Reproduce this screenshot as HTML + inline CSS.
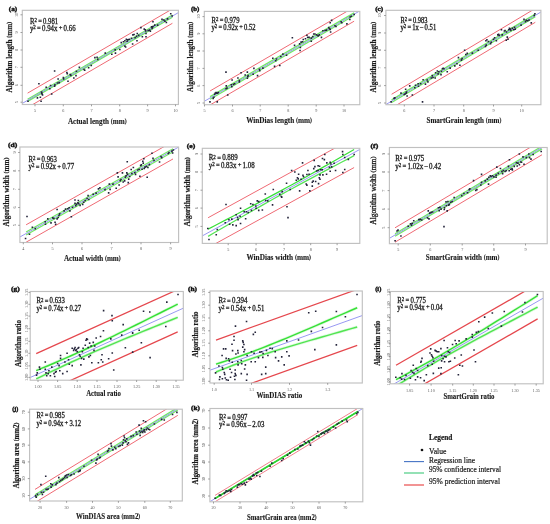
<!DOCTYPE html>
<html><head><meta charset="utf-8"><title>Regression plots</title>
<style>
html,body{margin:0;padding:0;background:#fff;}
body{width:550px;height:524px;overflow:hidden;}
svg{display:block;}
text{font-family:"Liberation Serif", "DejaVu Serif", serif;}
.tl{font-size:4.2px;fill:#5a5a5a;}
.lab{font-size:6.9px;font-weight:bold;fill:#111;stroke:#111;stroke-width:0.45px;}
.eq{font-size:7.2px;fill:#1c1c1c;stroke:#1c1c1c;stroke-width:0.28px;}
.sup{font-size:5.2px;}
.op{font-size:6.9px;}
.ax{font-size:7.4px;font-weight:bold;fill:#1a1a1a;stroke:#1a1a1a;stroke-width:0.12px;}
.yl{font-size:7.2px;stroke-width:0.2px;}
.nb{font-weight:normal;stroke-width:0.3px;}
.pp{font-size:5.9px;}
.lg{font-size:7.6px;fill:#1a1a1a;stroke:#1a1a1a;stroke-width:0.2px;}
</style></head>
<body>
<svg width="550" height="524" viewBox="0 0 550 524">
<rect width="550" height="524" fill="#fff"/>
<clipPath id="ca"><rect x="22.3" y="10.3" width="156.1" height="94.2"/></clipPath>
<g clip-path="url(#ca)" fill="none">
<line x1="27.6" y1="93.12" x2="172.4" y2="8.89" stroke="#ef6a74" stroke-width="1.0"/>
<line x1="27.6" y1="107.52" x2="172.4" y2="23.29" stroke="#ef6a74" stroke-width="1.0"/>
<line x1="27.6" y1="99.22" x2="172.4" y2="14.99" stroke="#72e964" stroke-width="1.3"/>
<line x1="27.6" y1="101.42" x2="172.4" y2="17.19" stroke="#72e964" stroke-width="1.3"/>
<line x1="22.3" y1="103.4" x2="178.4" y2="12.6" stroke="#8c8cf0" stroke-width="0.9"/>
<path d="M27.2 100.45h1.6v1.6h-1.6zM36.65 97.11h1.6v1.6h-1.6zM39.56 96.38h1.6v1.6h-1.6zM40.29 100.45h1.6v1.6h-1.6zM40.73 91.29h1.6v1.6h-1.6zM41.02 92.31h1.6v1.6h-1.6zM41.31 93.47h1.6v1.6h-1.6zM41.75 94.2h1.6v1.6h-1.6zM38.11 83h1.6v1.6h-1.6zM45.38 86.49h1.6v1.6h-1.6zM49.02 87.95h1.6v1.6h-1.6zM49.75 84.75h1.6v1.6h-1.6zM50.91 93.18h1.6v1.6h-1.6zM53.82 70.2h1.6v1.6h-1.6zM54.11 84.02h1.6v1.6h-1.6zM53.82 85.47h1.6v1.6h-1.6zM56.73 82.13h1.6v1.6h-1.6zM57.31 78.2h1.6v1.6h-1.6zM58.47 81.84h1.6v1.6h-1.6zM62.55 76.75h1.6v1.6h-1.6zM62.84 78.2h1.6v1.6h-1.6zM66.04 71.65h1.6v1.6h-1.6zM66.47 72.82h1.6v1.6h-1.6zM67.2 80.38h1.6v1.6h-1.6zM69.38 73.84h1.6v1.6h-1.6zM70.11 74.56h1.6v1.6h-1.6zM73.02 77.18h1.6v1.6h-1.6zM75.64 70.49h1.6v1.6h-1.6zM75.2 74.85h1.6v1.6h-1.6zM78.55 66.56h1.6v1.6h-1.6zM83.2 68.75h1.6v1.6h-1.6zM83.93 69.47h1.6v1.6h-1.6zM87.85 67h1.6v1.6h-1.6zM90.47 64.67h1.6v1.6h-1.6zM94.11 56.82h1.6v1.6h-1.6zM96.29 56.38h1.6v1.6h-1.6zM97.02 58.56h1.6v1.6h-1.6zM104.47 52.29h1.6v1.6h-1.6zM111.02 53.45h1.6v1.6h-1.6zM114.65 52.29h1.6v1.6h-1.6zM114.36 49.09h1.6v1.6h-1.6zM119.02 48.65h1.6v1.6h-1.6zM120.47 41.82h1.6v1.6h-1.6zM122.65 40.95h1.6v1.6h-1.6zM124.11 39.93h1.6v1.6h-1.6zM125.56 38.47h1.6v1.6h-1.6zM126.29 40.36h1.6v1.6h-1.6zM127.02 38.91h1.6v1.6h-1.6zM124.11 45.31h1.6v1.6h-1.6zM124.84 46.18h1.6v1.6h-1.6zM128.47 38.47h1.6v1.6h-1.6zM130.65 37.45h1.6v1.6h-1.6zM131.82 43.27h1.6v1.6h-1.6zM132.11 34.11h1.6v1.6h-1.6zM133.27 33.67h1.6v1.6h-1.6zM134.29 37.02h1.6v1.6h-1.6zM135.75 35.56h1.6v1.6h-1.6zM136.47 32.65h1.6v1.6h-1.6zM136.18 39.93h1.6v1.6h-1.6zM137.93 34.55h1.6v1.6h-1.6zM140.11 26.84h1.6v1.6h-1.6zM141.56 36h1.6v1.6h-1.6zM143.45 28.29h1.6v1.6h-1.6zM144.47 29.02h1.6v1.6h-1.6zM144.91 30.18h1.6v1.6h-1.6zM145.2 32.65h1.6v1.6h-1.6zM145.2 36h1.6v1.6h-1.6zM147.38 29.75h1.6v1.6h-1.6zM148.84 29.31h1.6v1.6h-1.6zM149.56 30.47h1.6v1.6h-1.6zM150.73 26.11h1.6v1.6h-1.6zM151.31 27.56h1.6v1.6h-1.6zM152.18 25.82h1.6v1.6h-1.6zM152.18 21.02h1.6v1.6h-1.6zM153.93 24.36h1.6v1.6h-1.6zM156.84 24.36h1.6v1.6h-1.6zM161.2 18.55h1.6v1.6h-1.6zM162.95 19.13h1.6v1.6h-1.6zM164.11 20.29h1.6v1.6h-1.6zM165.56 21.75h1.6v1.6h-1.6zM166.73 18.11h1.6v1.6h-1.6zM169.93 13.02h1.6v1.6h-1.6zM171.38 15.2h1.6v1.6h-1.6z" fill="#24243a"/>
</g>
<rect x="22.3" y="10.3" width="156.1" height="94.2" fill="none" stroke="#c0c0c0" stroke-width="1.15"/>
<path d="M35 104.5v1.8M63.3 104.5v1.8M91.5 104.5v1.8M119.7 104.5v1.8M147.6 104.5v1.8M175.5 104.5v1.8M22.3 14.8h-1.8M22.3 32.5h-1.8M22.3 50h-1.8M22.3 67.3h-1.8M22.3 85.3h-1.8M22.3 102.2h-1.8" stroke="#888" stroke-width="0.8" fill="none"/>
<text x="35" y="111.7" class="tl" text-anchor="middle">5</text>
<text x="63.3" y="111.7" class="tl" text-anchor="middle">6</text>
<text x="91.5" y="111.7" class="tl" text-anchor="middle">7</text>
<text x="119.7" y="111.7" class="tl" text-anchor="middle">8</text>
<text x="147.6" y="111.7" class="tl" text-anchor="middle">9</text>
<text x="175.5" y="111.7" class="tl" text-anchor="middle">10</text>
<text class="tl" text-anchor="middle" transform="translate(18 14.8) rotate(-90)">10</text>
<text class="tl" text-anchor="middle" transform="translate(18 32.5) rotate(-90)">9</text>
<text class="tl" text-anchor="middle" transform="translate(18 50) rotate(-90)">8</text>
<text class="tl" text-anchor="middle" transform="translate(18 67.3) rotate(-90)">7</text>
<text class="tl" text-anchor="middle" transform="translate(18 85.3) rotate(-90)">6</text>
<text class="tl" text-anchor="middle" transform="translate(18 102.2) rotate(-90)">5</text>
<text x="8.8" y="10.9" class="lab" textLength="8.4" lengthAdjust="spacingAndGlyphs">(a)</text>
<text class="eq" transform="translate(29.9 23.5) scale(0.9359 1)">R<tspan dy="-1.9" class="sup">2</tspan><tspan dy="1.3" dx="1.4" class="op">=</tspan><tspan dx="1.3" dy="0.6">0.981</tspan></text>
<text class="eq" transform="translate(29.9 30.6) scale(0.9499 1)">y<tspan dy="-1.9" class="sup">2</tspan><tspan dy="1.3" dx="1.4" class="op">=</tspan><tspan dx="1.3" dy="0.6">0.94x</tspan><tspan dx="1.3" dy="-0.6" class="op">+</tspan><tspan dx="1.3" dy="0.6">0.66</tspan></text>
<text x="67.9" y="124.1" class="ax" textLength="58.7" lengthAdjust="spacingAndGlyphs">Actual length <tspan class="pp" dy="-1.0">(</tspan><tspan dy="1.0">mm</tspan><tspan class="pp" dy="-1.0">)</tspan><tspan dy="1.0"></tspan></text>
<text class="ax yl" transform="translate(11.9 92.4) rotate(-90)" textLength="70.5" lengthAdjust="spacingAndGlyphs">Algorithm length <tspan class="pp" dy="-1.0">(</tspan><tspan dy="1.0">mm</tspan><tspan class="pp" dy="-1.0">)</tspan><tspan dy="1.0"></tspan></text>
<clipPath id="cb"><rect x="204.3" y="11.4" width="155.5" height="93.3"/></clipPath>
<g clip-path="url(#cb)" fill="none">
<line x1="210.1" y1="90.93" x2="354.1" y2="7.21" stroke="#ef6a74" stroke-width="1.0"/>
<line x1="210.1" y1="104.93" x2="354.1" y2="21.21" stroke="#ef6a74" stroke-width="1.0"/>
<line x1="210.1" y1="96.63" x2="354.1" y2="12.91" stroke="#72e964" stroke-width="1.3"/>
<line x1="210.1" y1="99.23" x2="354.1" y2="15.51" stroke="#72e964" stroke-width="1.3"/>
<line x1="204.3" y1="101.3" x2="359.8" y2="10.89" stroke="#8c8cf0" stroke-width="0.9"/>
<path d="M209.18 101.04h1.6v1.6h-1.6zM212.38 97.55h1.6v1.6h-1.6zM213.11 96.38h1.6v1.6h-1.6zM213.84 93.47h1.6v1.6h-1.6zM214.56 92.31h1.6v1.6h-1.6zM215.29 91.73h1.6v1.6h-1.6zM216.02 92.31h1.6v1.6h-1.6zM216.75 92.31h1.6v1.6h-1.6zM217.47 91.73h1.6v1.6h-1.6zM216.45 101.04h1.6v1.6h-1.6zM225.18 71.36h1.6v1.6h-1.6zM225.47 85.04h1.6v1.6h-1.6zM225.18 87.95h1.6v1.6h-1.6zM226.2 87.36h1.6v1.6h-1.6zM226.93 94.2h1.6v1.6h-1.6zM230.56 84.02h1.6v1.6h-1.6zM231 85.91h1.6v1.6h-1.6zM231.29 79.22h1.6v1.6h-1.6zM232.75 83.58h1.6v1.6h-1.6zM233.91 83h1.6v1.6h-1.6zM237.11 77.18h1.6v1.6h-1.6zM238.56 79.65h1.6v1.6h-1.6zM238.56 81.11h1.6v1.6h-1.6zM240.31 71.95h1.6v1.6h-1.6zM244.38 74.27h1.6v1.6h-1.6zM246.56 71.36h1.6v1.6h-1.6zM247.29 74.85h1.6v1.6h-1.6zM246.56 77.47h1.6v1.6h-1.6zM247 75.73h1.6v1.6h-1.6zM252.38 73.4h1.6v1.6h-1.6zM253.11 67.58h1.6v1.6h-1.6zM256.75 74.85h1.6v1.6h-1.6zM258.64 68.45h1.6v1.6h-1.6zM258.93 69.91h1.6v1.6h-1.6zM262.13 67.29h1.6v1.6h-1.6zM272.02 57.4h1.6v1.6h-1.6zM273.76 65.55h1.6v1.6h-1.6zM274.93 60.02h1.6v1.6h-1.6zM275.65 58.27h1.6v1.6h-1.6zM279 64.67h1.6v1.6h-1.6zM280.02 55.65h1.6v1.6h-1.6zM282.11 53.29h1.6v1.6h-1.6zM285.75 54.45h1.6v1.6h-1.6zM291.56 37h1.6v1.6h-1.6zM293.75 44.56h1.6v1.6h-1.6zM298.84 43.11h1.6v1.6h-1.6zM299.56 46.75h1.6v1.6h-1.6zM299.27 49.65h1.6v1.6h-1.6zM300.29 41.36h1.6v1.6h-1.6zM301.75 40.93h1.6v1.6h-1.6zM302.47 38.75h1.6v1.6h-1.6zM304.65 38.02h1.6v1.6h-1.6zM306.11 34.38h1.6v1.6h-1.6zM306.84 36.56h1.6v1.6h-1.6zM308.29 36.56h1.6v1.6h-1.6zM310.47 40.49h1.6v1.6h-1.6zM310.47 37.29h1.6v1.6h-1.6zM311.93 35.84h1.6v1.6h-1.6zM312.95 33.22h1.6v1.6h-1.6zM314.11 33.22h1.6v1.6h-1.6zM315.85 34.09h1.6v1.6h-1.6zM317.31 35.11h1.6v1.6h-1.6zM318.47 34.09h1.6v1.6h-1.6zM320.65 36.56h1.6v1.6h-1.6zM322.11 30.02h1.6v1.6h-1.6zM324.29 29.73h1.6v1.6h-1.6zM325.75 29.29h1.6v1.6h-1.6zM327.93 26.82h1.6v1.6h-1.6zM328.65 27.84h1.6v1.6h-1.6zM329.38 28.56h1.6v1.6h-1.6zM329.82 31.18h1.6v1.6h-1.6zM329.38 22.02h1.6v1.6h-1.6zM330.84 19.55h1.6v1.6h-1.6zM334.18 24.93h1.6v1.6h-1.6zM335.2 25.65h1.6v1.6h-1.6zM340.29 21h1.6v1.6h-1.6zM341.02 22.02h1.6v1.6h-1.6zM346.11 23.04h1.6v1.6h-1.6zM349.02 18.67h1.6v1.6h-1.6zM349.31 16.2h1.6v1.6h-1.6zM350.47 15.47h1.6v1.6h-1.6zM353.38 13.73h1.6v1.6h-1.6z" fill="#24243a"/>
</g>
<rect x="204.3" y="11.4" width="155.5" height="93.3" fill="none" stroke="#c0c0c0" stroke-width="1.15"/>
<path d="M204.5 104.7v1.8M232.5 104.7v1.8M260.2 104.7v1.8M288.2 104.7v1.8M316.2 104.7v1.8M344 104.7v1.8M204.3 16.6h-1.8M204.3 33.8h-1.8M204.3 51h-1.8M204.3 68.4h-1.8M204.3 85.6h-1.8M204.3 103h-1.8" stroke="#888" stroke-width="0.8" fill="none"/>
<text x="204.5" y="112.2" class="tl" text-anchor="middle">5</text>
<text x="232.5" y="112.2" class="tl" text-anchor="middle">6</text>
<text x="260.2" y="112.2" class="tl" text-anchor="middle">7</text>
<text x="288.2" y="112.2" class="tl" text-anchor="middle">8</text>
<text x="316.2" y="112.2" class="tl" text-anchor="middle">9</text>
<text x="344" y="112.2" class="tl" text-anchor="middle">10</text>
<text class="tl" text-anchor="middle" transform="translate(199.5 16.6) rotate(-90)">10</text>
<text class="tl" text-anchor="middle" transform="translate(199.5 33.8) rotate(-90)">9</text>
<text class="tl" text-anchor="middle" transform="translate(199.5 51) rotate(-90)">8</text>
<text class="tl" text-anchor="middle" transform="translate(199.5 68.4) rotate(-90)">7</text>
<text class="tl" text-anchor="middle" transform="translate(199.5 85.6) rotate(-90)">6</text>
<text class="tl" text-anchor="middle" transform="translate(199.5 103) rotate(-90)">5</text>
<text x="191" y="11.2" class="lab" textLength="8.4" lengthAdjust="spacingAndGlyphs">(b)</text>
<text class="eq" transform="translate(211.5 23) scale(0.9293 1)">R<tspan dy="-1.9" class="sup">2</tspan><tspan dy="1.3" dx="1.4" class="op">=</tspan><tspan dx="1.3" dy="0.6">0.979</tspan></text>
<text class="eq" transform="translate(211.5 30) scale(0.9169 1)">y<tspan dy="-1.9" class="sup">2</tspan><tspan dy="1.3" dx="1.4" class="op">=</tspan><tspan dx="1.3" dy="0.6">0.92x</tspan><tspan dx="1.3" dy="-0.6" class="op">+</tspan><tspan dx="1.3" dy="0.6">0.52</tspan></text>
<text x="246.2" y="123.3" class="ax" textLength="65.8" lengthAdjust="spacingAndGlyphs">WinDias length <tspan class="pp" dy="-1.0">(</tspan><tspan dy="1.0">mm</tspan><tspan class="pp" dy="-1.0">)</tspan><tspan dy="1.0"></tspan></text>
<text class="ax yl" transform="translate(193.2 92) rotate(-90)" textLength="70.1" lengthAdjust="spacingAndGlyphs">Algorithm length <tspan class="pp" dy="-1.0">(</tspan><tspan dy="1.0">mm</tspan><tspan class="pp" dy="-1.0">)</tspan><tspan dy="1.0"></tspan></text>
<clipPath id="cc"><rect x="385.9" y="10.3" width="155" height="94.4"/></clipPath>
<g clip-path="url(#cc)" fill="none">
<line x1="391.6" y1="94.26" x2="535.3" y2="8.47" stroke="#ef6a74" stroke-width="1.0"/>
<line x1="391.6" y1="108.06" x2="535.3" y2="22.27" stroke="#ef6a74" stroke-width="1.0"/>
<line x1="391.6" y1="99.86" x2="535.3" y2="14.07" stroke="#72e964" stroke-width="1.3"/>
<line x1="391.6" y1="102.46" x2="535.3" y2="16.67" stroke="#72e964" stroke-width="1.3"/>
<line x1="385.9" y1="104.56" x2="540.9" y2="12.02" stroke="#8c8cf0" stroke-width="0.9"/>
<path d="M390.31 101.04h1.6v1.6h-1.6zM393.22 97.55h1.6v1.6h-1.6zM394.09 97.11h1.6v1.6h-1.6zM400.2 92.31h1.6v1.6h-1.6zM403.4 93.76h1.6v1.6h-1.6zM404.27 93.18h1.6v1.6h-1.6zM405.29 92.31h1.6v1.6h-1.6zM405.73 91.29h1.6v1.6h-1.6zM404.85 88.38h1.6v1.6h-1.6zM406.31 95.22h1.6v1.6h-1.6zM408.93 85.04h1.6v1.6h-1.6zM411.55 94.2h1.6v1.6h-1.6zM414.02 86.93h1.6v1.6h-1.6zM414.75 84.45h1.6v1.6h-1.6zM417.36 83h1.6v1.6h-1.6zM417.65 85.47h1.6v1.6h-1.6zM419.84 83h1.6v1.6h-1.6zM422.31 78.93h1.6v1.6h-1.6zM424.64 83.29h1.6v1.6h-1.6zM426.38 79.22h1.6v1.6h-1.6zM427.11 81.11h1.6v1.6h-1.6zM430.45 77.18h1.6v1.6h-1.6zM431.47 74.85h1.6v1.6h-1.6zM432.2 76.75h1.6v1.6h-1.6zM434.38 77.18h1.6v1.6h-1.6zM434.82 71.95h1.6v1.6h-1.6zM436.56 70.2h1.6v1.6h-1.6zM437.29 73.11h1.6v1.6h-1.6zM438.02 70.93h1.6v1.6h-1.6zM440.2 73.84h1.6v1.6h-1.6zM440.64 70.49h1.6v1.6h-1.6zM441.65 68.02h1.6v1.6h-1.6zM442.38 67.58h1.6v1.6h-1.6zM443.11 68.02h1.6v1.6h-1.6zM446.45 70.93h1.6v1.6h-1.6zM449.36 67.29h1.6v1.6h-1.6zM454.02 65.11h1.6v1.6h-1.6zM456.2 62.93h1.6v1.6h-1.6zM457.65 56.82h1.6v1.6h-1.6zM459.11 64.38h1.6v1.6h-1.6zM460.56 59.29h1.6v1.6h-1.6zM461.29 57.84h1.6v1.6h-1.6zM421.73 101.04h1.6v1.6h-1.6zM463.85 49.38h1.6v1.6h-1.6zM465.02 53.75h1.6v1.6h-1.6zM466.47 52.58h1.6v1.6h-1.6zM471.56 52.29h1.6v1.6h-1.6zM477.38 49.38h1.6v1.6h-1.6zM484.65 45.75h1.6v1.6h-1.6zM485.38 44.29h1.6v1.6h-1.6zM485.09 39.93h1.6v1.6h-1.6zM486.11 38.91h1.6v1.6h-1.6zM487.56 40.65h1.6v1.6h-1.6zM489.75 42.84h1.6v1.6h-1.6zM490.47 41.38h1.6v1.6h-1.6zM492.65 38.47h1.6v1.6h-1.6zM493.82 37.02h1.6v1.6h-1.6zM495.56 39.93h1.6v1.6h-1.6zM497.02 34.11h1.6v1.6h-1.6zM497.75 33.38h1.6v1.6h-1.6zM498.47 34.55h1.6v1.6h-1.6zM500.65 29.02h1.6v1.6h-1.6zM501.38 34.11h1.6v1.6h-1.6zM503.56 30.18h1.6v1.6h-1.6zM504.29 29.75h1.6v1.6h-1.6zM505.75 31.2h1.6v1.6h-1.6zM506.47 36.29h1.6v1.6h-1.6zM507.2 38.47h1.6v1.6h-1.6zM505.45 39.49h1.6v1.6h-1.6zM507.93 29.02h1.6v1.6h-1.6zM508.65 27.56h1.6v1.6h-1.6zM509.38 28.29h1.6v1.6h-1.6zM510.11 29.75h1.6v1.6h-1.6zM511.56 27.56h1.6v1.6h-1.6zM513.02 29.02h1.6v1.6h-1.6zM513.75 26.4h1.6v1.6h-1.6zM514.47 28.29h1.6v1.6h-1.6zM520.29 24.36h1.6v1.6h-1.6zM523.2 18.55h1.6v1.6h-1.6zM524.65 21.02h1.6v1.6h-1.6zM525.38 19.56h1.6v1.6h-1.6zM526.84 20h1.6v1.6h-1.6zM528.29 19.13h1.6v1.6h-1.6zM530.47 22.04h1.6v1.6h-1.6zM533.38 14.76h1.6v1.6h-1.6zM534.11 13.02h1.6v1.6h-1.6z" fill="#24243a"/>
</g>
<rect x="385.9" y="10.3" width="155" height="94.4" fill="none" stroke="#c0c0c0" stroke-width="1.15"/>
<path d="M404.3 104.7v1.8M434 104.7v1.8M463.7 104.7v1.8M493.5 104.7v1.8M521.7 104.7v1.8M385.9 15.5h-1.8M385.9 33h-1.8M385.9 50.3h-1.8M385.9 67.8h-1.8M385.9 85.6h-1.8M385.9 103h-1.8" stroke="#888" stroke-width="0.8" fill="none"/>
<text x="404.3" y="112.2" class="tl" text-anchor="middle">6</text>
<text x="434" y="112.2" class="tl" text-anchor="middle">7</text>
<text x="463.7" y="112.2" class="tl" text-anchor="middle">8</text>
<text x="493.5" y="112.2" class="tl" text-anchor="middle">9</text>
<text x="521.7" y="112.2" class="tl" text-anchor="middle">10</text>
<text class="tl" text-anchor="middle" transform="translate(381 15.5) rotate(-90)">10</text>
<text class="tl" text-anchor="middle" transform="translate(381 33) rotate(-90)">9</text>
<text class="tl" text-anchor="middle" transform="translate(381 50.3) rotate(-90)">8</text>
<text class="tl" text-anchor="middle" transform="translate(381 67.8) rotate(-90)">7</text>
<text class="tl" text-anchor="middle" transform="translate(381 85.6) rotate(-90)">6</text>
<text class="tl" text-anchor="middle" transform="translate(381 103) rotate(-90)">5</text>
<text x="375.2" y="11.2" class="lab" textLength="8" lengthAdjust="spacingAndGlyphs">(c)</text>
<text class="eq" transform="translate(400.4 23) scale(0.8999 1)">R<tspan dy="-1.9" class="sup">2</tspan><tspan dy="1.3" dx="1.4" class="op">=</tspan><tspan dx="1.3" dy="0.6">0.983</tspan></text>
<text class="eq" transform="translate(400.4 30) scale(0.9281 1)">y<tspan dy="-1.9" class="sup">2</tspan><tspan dy="1.3" dx="1.4" class="op">=</tspan><tspan dx="1.3" dy="0.6">1x</tspan><tspan dx="1.3" dy="-0.6" class="op">–</tspan><tspan dx="1.3" dy="0.6">0.51</tspan></text>
<text x="426.5" y="123.3" class="ax" textLength="74.8" lengthAdjust="spacingAndGlyphs">SmartGrain length <tspan class="pp" dy="-1.0">(</tspan><tspan dy="1.0">mm</tspan><tspan class="pp" dy="-1.0">)</tspan><tspan dy="1.0"></tspan></text>
<text class="ax yl" transform="translate(375.5 92.4) rotate(-90)" textLength="70.5" lengthAdjust="spacingAndGlyphs">Algorithm length <tspan class="pp" dy="-1.0">(</tspan><tspan dy="1.0">mm</tspan><tspan class="pp" dy="-1.0">)</tspan><tspan dy="1.0"></tspan></text>
<clipPath id="cd"><rect x="19.9" y="147" width="158.7" height="95.5"/></clipPath>
<g clip-path="url(#cd)" fill="none">
<line x1="26.1" y1="224.8" x2="173" y2="141.55" stroke="#ef6a74" stroke-width="1.0"/>
<line x1="26.1" y1="242.2" x2="173" y2="158.95" stroke="#ef6a74" stroke-width="1.0"/>
<line x1="26.1" y1="232" x2="173" y2="148.75" stroke="#72e964" stroke-width="1.3"/>
<line x1="26.1" y1="235" x2="173" y2="151.75" stroke="#72e964" stroke-width="1.3"/>
<line x1="19.9" y1="237.01" x2="178.6" y2="147.08" stroke="#8c8cf0" stroke-width="0.9"/>
<path d="M24.75 237.75h1.6v1.6h-1.6zM26.2 215.64h1.6v1.6h-1.6zM28.67 233.38h1.6v1.6h-1.6zM31.58 226.4h1.6v1.6h-1.6zM34.49 227.85h1.6v1.6h-1.6zM44.38 221.02h1.6v1.6h-1.6zM44.67 223.49h1.6v1.6h-1.6zM47 218.11h1.6v1.6h-1.6zM50.2 222.04h1.6v1.6h-1.6zM51.95 217.09h1.6v1.6h-1.6zM53.11 217.67h1.6v1.6h-1.6zM54.27 221.45h1.6v1.6h-1.6zM54.85 223.49h1.6v1.6h-1.6zM56.31 208.65h1.6v1.6h-1.6zM56.31 218.11h1.6v1.6h-1.6zM57.47 216.65h1.6v1.6h-1.6zM58.2 214.47h1.6v1.6h-1.6zM58.93 213.02h1.6v1.6h-1.6zM63.29 210.11h1.6v1.6h-1.6zM64.75 208.36h1.6v1.6h-1.6zM66.93 207.93h1.6v1.6h-1.6zM68.38 206.91h1.6v1.6h-1.6zM69.11 210.11h1.6v1.6h-1.6zM70.56 215.93h1.6v1.6h-1.6zM71.73 206.47h1.6v1.6h-1.6zM74.2 199.2h1.6v1.6h-1.6zM74.2 202.55h1.6v1.6h-1.6zM74.93 205.02h1.6v1.6h-1.6zM75.65 203.56h1.6v1.6h-1.6zM77.11 202.11h1.6v1.6h-1.6zM77.55 199.64h1.6v1.6h-1.6zM77.84 202.84h1.6v1.6h-1.6zM79.29 204.58h1.6v1.6h-1.6zM81.91 203.56h1.6v1.6h-1.6zM82.93 201.38h1.6v1.6h-1.6zM84.38 199.64h1.6v1.6h-1.6zM86.27 197.75h1.6v1.6h-1.6zM87.29 194.84h1.6v1.6h-1.6zM88.02 198.76h1.6v1.6h-1.6zM92.38 193.38h1.6v1.6h-1.6zM95.29 192.36h1.6v1.6h-1.6zM97.65 188.11h1.6v1.6h-1.6zM99.11 187.09h1.6v1.6h-1.6zM104.2 188.84h1.6v1.6h-1.6zM107.84 192.04h1.6v1.6h-1.6zM108.56 183.31h1.6v1.6h-1.6zM109.29 188.55h1.6v1.6h-1.6zM112.2 183.31h1.6v1.6h-1.6zM115.4 187.38h1.6v1.6h-1.6zM116.56 172.11h1.6v1.6h-1.6zM117.29 176.04h1.6v1.6h-1.6zM118.31 184.18h1.6v1.6h-1.6zM119.47 179.82h1.6v1.6h-1.6zM120.2 178.65h1.6v1.6h-1.6zM121.65 172.11h1.6v1.6h-1.6zM122.38 181.27h1.6v1.6h-1.6zM123.84 180.11h1.6v1.6h-1.6zM124.56 176.47h1.6v1.6h-1.6zM125.29 175.02h1.6v1.6h-1.6zM126.02 172.11h1.6v1.6h-1.6zM126.45 160.91h1.6v1.6h-1.6zM126.75 173.56h1.6v1.6h-1.6zM127.47 181.85h1.6v1.6h-1.6zM127.91 178.36h1.6v1.6h-1.6zM128.93 175.75h1.6v1.6h-1.6zM130.38 168.76h1.6v1.6h-1.6zM131.11 172.84h1.6v1.6h-1.6zM132.56 166.73h1.6v1.6h-1.6zM134.02 171.67h1.6v1.6h-1.6zM134.75 173.56h1.6v1.6h-1.6zM136.93 169.2h1.6v1.6h-1.6zM138.38 168.47h1.6v1.6h-1.6zM139.11 175.45h1.6v1.6h-1.6zM139.84 164.84h1.6v1.6h-1.6zM140.56 164.11h1.6v1.6h-1.6zM141.29 168.47h1.6v1.6h-1.6zM142.02 160.47h1.6v1.6h-1.6zM142.45 162.36h1.6v1.6h-1.6zM143.04 158h1.6v1.6h-1.6zM143.47 167.75h1.6v1.6h-1.6zM144.2 166.29h1.6v1.6h-1.6zM145.65 165.56h1.6v1.6h-1.6zM146.38 176.47h1.6v1.6h-1.6zM147.11 166.73h1.6v1.6h-1.6zM148.56 163.82h1.6v1.6h-1.6zM151.18 152.47h1.6v1.6h-1.6zM152.2 157.56h1.6v1.6h-1.6zM153.22 159.75h1.6v1.6h-1.6zM158.75 161.2h1.6v1.6h-1.6zM160.2 155.67h1.6v1.6h-1.6zM160.93 156.84h1.6v1.6h-1.6zM167.47 152.76h1.6v1.6h-1.6zM168.2 151.75h1.6v1.6h-1.6zM171.11 150.29h1.6v1.6h-1.6zM171.84 152.18h1.6v1.6h-1.6zM172.56 149.27h1.6v1.6h-1.6z" fill="#24243a"/>
</g>
<rect x="19.9" y="147" width="158.7" height="95.5" fill="none" stroke="#c0c0c0" stroke-width="1.15"/>
<path d="M23.3 242.5v1.8M52.5 242.5v1.8M82 242.5v1.8M111.5 242.5v1.8M141 242.5v1.8M170.6 242.5v1.8M19.9 152.5h-1.8M19.9 170.8h-1.8M19.9 189.3h-1.8M19.9 207.5h-1.8M19.9 225.3h-1.8" stroke="#888" stroke-width="0.8" fill="none"/>
<text x="23.3" y="249.7" class="tl" text-anchor="middle">4</text>
<text x="52.5" y="249.7" class="tl" text-anchor="middle">5</text>
<text x="82" y="249.7" class="tl" text-anchor="middle">6</text>
<text x="111.5" y="249.7" class="tl" text-anchor="middle">7</text>
<text x="141" y="249.7" class="tl" text-anchor="middle">8</text>
<text x="170.6" y="249.7" class="tl" text-anchor="middle">9</text>
<text class="tl" text-anchor="middle" transform="translate(16 152.5) rotate(-90)">9</text>
<text class="tl" text-anchor="middle" transform="translate(16 170.8) rotate(-90)">8</text>
<text class="tl" text-anchor="middle" transform="translate(16 189.3) rotate(-90)">7</text>
<text class="tl" text-anchor="middle" transform="translate(16 207.5) rotate(-90)">6</text>
<text class="tl" text-anchor="middle" transform="translate(16 225.3) rotate(-90)">5</text>
<text x="8" y="146.6" class="lab" textLength="9.2" lengthAdjust="spacingAndGlyphs">(d)</text>
<text class="eq" transform="translate(28.5 161.5) scale(0.9359 1)">R<tspan dy="-1.9" class="sup">2</tspan><tspan dy="1.3" dx="1.4" class="op">=</tspan><tspan dx="1.3" dy="0.6">0.963</tspan></text>
<text class="eq" transform="translate(28.5 169.1) scale(0.9499 1)">y<tspan dy="-1.9" class="sup">2</tspan><tspan dy="1.3" dx="1.4" class="op">=</tspan><tspan dx="1.3" dy="0.6">0.92x</tspan><tspan dx="1.3" dy="-0.6" class="op">+</tspan><tspan dx="1.3" dy="0.6">0.77</tspan></text>
<text x="63.9" y="260.5" class="ax" textLength="56.8" lengthAdjust="spacingAndGlyphs">Actual width <tspan class="pp" dy="-1.0">(</tspan><tspan dy="1.0">mm</tspan><tspan class="pp" dy="-1.0">)</tspan><tspan dy="1.0"></tspan></text>
<text class="ax yl" transform="translate(9.2 226.4) rotate(-90)" textLength="68.8" lengthAdjust="spacingAndGlyphs">Algorithm width <tspan class="pp" dy="-1.0">(</tspan><tspan dy="1.0">mm</tspan><tspan class="pp" dy="-1.0">)</tspan><tspan dy="1.0"></tspan></text>
<clipPath id="ce"><rect x="202.3" y="148.3" width="157.5" height="95.1"/></clipPath>
<g clip-path="url(#ce)" fill="none">
<line x1="208.1" y1="217.72" x2="354.1" y2="137.56" stroke="#ef6a74" stroke-width="1.0"/>
<line x1="208.1" y1="247.72" x2="354.1" y2="167.56" stroke="#ef6a74" stroke-width="1.0"/>
<polyline points="208.1,229.08 214.18,225.93 220.27,222.77 226.35,219.61 232.43,216.44 238.52,213.26 244.6,210.07 250.68,206.86 256.77,203.65 262.85,200.42 268.93,197.17 275.02,193.9 281.1,190.61 287.18,187.3 293.27,183.96 299.35,180.59 305.43,177.2 311.52,173.79 317.6,170.35 323.68,166.9 329.77,163.44 335.85,159.96 341.93,156.47 348.02,152.97 354.1,149.46" stroke="#38e038" stroke-width="1.25" opacity="1"/>
<polyline points="208.1,236.35 214.18,232.82 220.27,229.3 226.35,225.79 232.43,222.28 238.52,218.78 244.6,215.29 250.68,211.81 256.77,208.35 262.85,204.9 268.93,201.46 275.02,198.05 281.1,194.67 287.18,191.3 293.27,187.96 299.35,184.65 305.43,181.36 311.52,178.09 317.6,174.85 323.68,171.62 329.77,168.4 335.85,165.2 341.93,162.01 348.02,158.84 354.1,155.66" stroke="#38e038" stroke-width="1.25" opacity="0.85"/>
<line x1="202.3" y1="235.9" x2="359.8" y2="149.43" stroke="#8c8cf0" stroke-width="0.9"/>
<path d="M207.02 227.75h1.6v1.6h-1.6zM208.18 238.65h1.6v1.6h-1.6zM215.45 234h1.6v1.6h-1.6zM216.47 228.76h1.6v1.6h-1.6zM225.2 203.75h1.6v1.6h-1.6zM224.47 221.93h1.6v1.6h-1.6zM228.11 219.02h1.6v1.6h-1.6zM231.02 218.29h1.6v1.6h-1.6zM228.84 223.38h1.6v1.6h-1.6zM232.04 224.11h1.6v1.6h-1.6zM235.38 224.84h1.6v1.6h-1.6zM235.38 213.93h1.6v1.6h-1.6zM236.84 216.84h1.6v1.6h-1.6zM237.27 219.02h1.6v1.6h-1.6zM239.31 215.38h1.6v1.6h-1.6zM239.75 207.38h1.6v1.6h-1.6zM239.75 222.65h1.6v1.6h-1.6zM243.38 211.02h1.6v1.6h-1.6zM245.56 211.02h1.6v1.6h-1.6zM244.84 218h1.6v1.6h-1.6zM247.45 211.75h1.6v1.6h-1.6zM249.93 203.02h1.6v1.6h-1.6zM252.11 203.75h1.6v1.6h-1.6zM250.65 209.56h1.6v1.6h-1.6zM255.02 205.2h1.6v1.6h-1.6zM255.31 207.38h1.6v1.6h-1.6zM256.47 200.11h1.6v1.6h-1.6zM257.93 200.84h1.6v1.6h-1.6zM257.93 209.56h1.6v1.6h-1.6zM261.56 209.27h1.6v1.6h-1.6zM264.47 193.27h1.6v1.6h-1.6zM264.91 199.67h1.6v1.6h-1.6zM266.95 200.11h1.6v1.6h-1.6zM271.75 204.04h1.6v1.6h-1.6zM279.02 193.56h1.6v1.6h-1.6zM280.47 195.75h1.6v1.6h-1.6zM324 153.75h1.6v1.6h-1.6zM341.75 150.84h1.6v1.6h-1.6zM342.04 153.75h1.6v1.6h-1.6zM353.38 153.75h1.6v1.6h-1.6zM313.38 159.56h1.6v1.6h-1.6zM321.67 157.67h1.6v1.6h-1.6zM323.56 158.84h1.6v1.6h-1.6zM347.56 158.55h1.6v1.6h-1.6zM343.93 156.65h1.6v1.6h-1.6zM301.75 162.04h1.6v1.6h-1.6zM326.04 162.04h1.6v1.6h-1.6zM329.38 161.45h1.6v1.6h-1.6zM330.11 163.2h1.6v1.6h-1.6zM333.31 162.47h1.6v1.6h-1.6zM314.11 165.82h1.6v1.6h-1.6zM317.31 164.95h1.6v1.6h-1.6zM318.76 165.38h1.6v1.6h-1.6zM312.95 167.85h1.6v1.6h-1.6zM315.85 170.18h1.6v1.6h-1.6zM317.31 169.75h1.6v1.6h-1.6zM319.64 169.02h1.6v1.6h-1.6zM321.38 169.02h1.6v1.6h-1.6zM328.65 166.4h1.6v1.6h-1.6zM330.84 166.11h1.6v1.6h-1.6zM329.38 170.47h1.6v1.6h-1.6zM334.76 169.75h1.6v1.6h-1.6zM343.93 168.73h1.6v1.6h-1.6zM342.04 171.64h1.6v1.6h-1.6zM290.84 169.75h1.6v1.6h-1.6zM294.04 171.2h1.6v1.6h-1.6zM297.82 173.38h1.6v1.6h-1.6zM307.13 169.75h1.6v1.6h-1.6zM306.11 173.67h1.6v1.6h-1.6zM308.29 173.38h1.6v1.6h-1.6zM302.18 174.55h1.6v1.6h-1.6zM302.76 176h1.6v1.6h-1.6zM296.65 177.02h1.6v1.6h-1.6zM297.38 178.04h1.6v1.6h-1.6zM295.49 179.49h1.6v1.6h-1.6zM300.29 178.47h1.6v1.6h-1.6zM319.2 174.11h1.6v1.6h-1.6zM322.11 174.11h1.6v1.6h-1.6zM318.47 177.02h1.6v1.6h-1.6zM325.75 173.38h1.6v1.6h-1.6zM319.2 178.47h1.6v1.6h-1.6zM317.75 182.84h1.6v1.6h-1.6zM314.84 180.65h1.6v1.6h-1.6zM311.49 181.38h1.6v1.6h-1.6zM312.36 180.36h1.6v1.6h-1.6zM311.49 185.31h1.6v1.6h-1.6zM305.38 183.27h1.6v1.6h-1.6zM306.11 184.29h1.6v1.6h-1.6zM285.75 182.4h1.6v1.6h-1.6zM298.84 190.11h1.6v1.6h-1.6zM309.02 190.11h1.6v1.6h-1.6zM281.38 190.84h1.6v1.6h-1.6zM280.95 196.36h1.6v1.6h-1.6zM289.38 188.65h1.6v1.6h-1.6zM286.18 205.93h1.6v1.6h-1.6zM287.2 216.84h1.6v1.6h-1.6zM272.5 188.7h1.6v1.6h-1.6z" fill="#24243a"/>
</g>
<rect x="202.3" y="148.3" width="157.5" height="95.1" fill="none" stroke="#c0c0c0" stroke-width="1.15"/>
<path d="M228.2 243.4v1.8M256.1 243.4v1.8M284 243.4v1.8M310.7 243.4v1.8M337.1 243.4v1.8M202.3 154h-1.8M202.3 172h-1.8M202.3 190.2h-1.8M202.3 208.1h-1.8M202.3 226.4h-1.8" stroke="#888" stroke-width="0.8" fill="none"/>
<text x="228.2" y="250.7" class="tl" text-anchor="middle">5</text>
<text x="256.1" y="250.7" class="tl" text-anchor="middle">6</text>
<text x="284" y="250.7" class="tl" text-anchor="middle">7</text>
<text x="310.7" y="250.7" class="tl" text-anchor="middle">8</text>
<text x="337.1" y="250.7" class="tl" text-anchor="middle">9</text>
<text class="tl" text-anchor="middle" transform="translate(197.6 154) rotate(-90)">9</text>
<text class="tl" text-anchor="middle" transform="translate(197.6 172) rotate(-90)">8</text>
<text class="tl" text-anchor="middle" transform="translate(197.6 190.2) rotate(-90)">7</text>
<text class="tl" text-anchor="middle" transform="translate(197.6 208.1) rotate(-90)">6</text>
<text class="tl" text-anchor="middle" transform="translate(197.6 226.4) rotate(-90)">5</text>
<text x="186.8" y="148.2" class="lab" textLength="8.4" lengthAdjust="spacingAndGlyphs">(e)</text>
<text class="eq" transform="translate(208.7 160.4) scale(0.9621 1)">R<tspan dy="-1.9" class="sup">2</tspan><tspan dy="1.3" dx="1.4" class="op">=</tspan><tspan dx="1.3" dy="0.6">0.889</tspan></text>
<text class="eq" transform="translate(208.7 168) scale(0.9561 1)">y<tspan dy="-1.9" class="sup">2</tspan><tspan dy="1.3" dx="1.4" class="op">=</tspan><tspan dx="1.3" dy="0.6">0.83x</tspan><tspan dx="1.3" dy="-0.6" class="op">+</tspan><tspan dx="1.3" dy="0.6">1.08</tspan></text>
<text x="246.4" y="260.1" class="ax" textLength="64.6" lengthAdjust="spacingAndGlyphs">WinDias width <tspan class="pp" dy="-1.0">(</tspan><tspan dy="1.0">mm</tspan><tspan class="pp" dy="-1.0">)</tspan><tspan dy="1.0"></tspan></text>
<text class="ax yl" transform="translate(190.3 226.3) rotate(-90)" textLength="69" lengthAdjust="spacingAndGlyphs">Algorithm width <tspan class="pp" dy="-1.0">(</tspan><tspan dy="1.0">mm</tspan><tspan class="pp" dy="-1.0">)</tspan><tspan dy="1.0"></tspan></text>
<clipPath id="cf"><rect x="389.4" y="147.5" width="157.8" height="96.2"/></clipPath>
<g clip-path="url(#cf)" fill="none">
<line x1="395" y1="227.8" x2="542" y2="140.34" stroke="#ef6a74" stroke-width="1.0"/>
<line x1="395" y1="242.2" x2="542" y2="154.74" stroke="#ef6a74" stroke-width="1.0"/>
<line x1="395" y1="233.7" x2="542" y2="146.24" stroke="#72e964" stroke-width="1.3"/>
<line x1="395" y1="236.3" x2="542" y2="148.84" stroke="#72e964" stroke-width="1.3"/>
<line x1="389.4" y1="238.33" x2="547.2" y2="144.44" stroke="#8c8cf0" stroke-width="0.9"/>
<path d="M394.31 239.93h1.6v1.6h-1.6zM396.2 230.18h1.6v1.6h-1.6zM397.22 229.31h1.6v1.6h-1.6zM400.13 235.13h1.6v1.6h-1.6zM407.4 225.38h1.6v1.6h-1.6zM409.73 222.91h1.6v1.6h-1.6zM410.75 224.36h1.6v1.6h-1.6zM411.47 222.47h1.6v1.6h-1.6zM412.93 220h1.6v1.6h-1.6zM418.02 218.84h1.6v1.6h-1.6zM419.47 218.55h1.6v1.6h-1.6zM420.93 219.13h1.6v1.6h-1.6zM426.75 217.09h1.6v1.6h-1.6zM427.47 210.11h1.6v1.6h-1.6zM428.2 218.11h1.6v1.6h-1.6zM428.93 212.29h1.6v1.6h-1.6zM430.38 211.56h1.6v1.6h-1.6zM431.84 211.27h1.6v1.6h-1.6zM437.65 206.91h1.6v1.6h-1.6zM438.38 209.82h1.6v1.6h-1.6zM439.11 206.47h1.6v1.6h-1.6zM440.27 208.36h1.6v1.6h-1.6zM443.47 208.65h1.6v1.6h-1.6zM443.76 206.91h1.6v1.6h-1.6zM443.18 225.82h1.6v1.6h-1.6zM445.22 201.09h1.6v1.6h-1.6zM445.65 205.02h1.6v1.6h-1.6zM446.38 210.11h1.6v1.6h-1.6zM447.11 200.65h1.6v1.6h-1.6zM447.84 204.29h1.6v1.6h-1.6zM448.56 203.56h1.6v1.6h-1.6zM450.02 201.38h1.6v1.6h-1.6zM451.47 200.65h1.6v1.6h-1.6zM453.36 196.73h1.6v1.6h-1.6zM460.93 194.84h1.6v1.6h-1.6zM463.11 192.65h1.6v1.6h-1.6zM466.75 191.93h1.6v1.6h-1.6zM468.38 188.84h1.6v1.6h-1.6zM469.11 188.11h1.6v1.6h-1.6zM472.75 179.82h1.6v1.6h-1.6zM474.93 189.56h1.6v1.6h-1.6zM476.09 188.84h1.6v1.6h-1.6zM480.02 184.18h1.6v1.6h-1.6zM480.75 173.56h1.6v1.6h-1.6zM480.75 181.56h1.6v1.6h-1.6zM484.38 180.11h1.6v1.6h-1.6zM486.56 178.36h1.6v1.6h-1.6zM487.73 183.31h1.6v1.6h-1.6zM488.02 176.47h1.6v1.6h-1.6zM489.47 175.02h1.6v1.6h-1.6zM490.2 175.75h1.6v1.6h-1.6zM491.65 175.02h1.6v1.6h-1.6zM493.11 176.04h1.6v1.6h-1.6zM495.29 176.47h1.6v1.6h-1.6zM495.29 174.29h1.6v1.6h-1.6zM496.02 166.29h1.6v1.6h-1.6zM497.47 172.55h1.6v1.6h-1.6zM499.65 167.75h1.6v1.6h-1.6zM501.11 170.65h1.6v1.6h-1.6zM501.84 172.84h1.6v1.6h-1.6zM502.56 169.64h1.6v1.6h-1.6zM504.31 170.65h1.6v1.6h-1.6zM505.47 169.93h1.6v1.6h-1.6zM507.65 165.56h1.6v1.6h-1.6zM508.38 169.93h1.6v1.6h-1.6zM509.84 168.47h1.6v1.6h-1.6zM511.29 167.75h1.6v1.6h-1.6zM511.58 169.2h1.6v1.6h-1.6zM508.67 159.02h1.6v1.6h-1.6zM513.47 165.56h1.6v1.6h-1.6zM515.65 161.93h1.6v1.6h-1.6zM516.38 165.27h1.6v1.6h-1.6zM517.11 162.36h1.6v1.6h-1.6zM518.56 153.2h1.6v1.6h-1.6zM518.56 163.82h1.6v1.6h-1.6zM520.02 161.2h1.6v1.6h-1.6zM520.75 161.49h1.6v1.6h-1.6zM522.2 156.11h1.6v1.6h-1.6zM523.22 163.38h1.6v1.6h-1.6zM525.55 156.84h1.6v1.6h-1.6zM528.02 153.2h1.6v1.6h-1.6zM528.75 156.84h1.6v1.6h-1.6zM530.2 158.29h1.6v1.6h-1.6zM532.38 153.64h1.6v1.6h-1.6zM540.38 150.73h1.6v1.6h-1.6z" fill="#24243a"/>
</g>
<rect x="389.4" y="147.5" width="157.8" height="96.2" fill="none" stroke="#c0c0c0" stroke-width="1.15"/>
<path d="M398.2 243.7v1.8M430.3 243.7v1.8M462.2 243.7v1.8M493.7 243.7v1.8M525.5 243.7v1.8M389.4 154h-1.8M389.4 172h-1.8M389.4 190.6h-1.8M389.4 209.1h-1.8M389.4 227.7h-1.8" stroke="#888" stroke-width="0.8" fill="none"/>
<text x="398.2" y="250.7" class="tl" text-anchor="middle">5</text>
<text x="430.3" y="250.7" class="tl" text-anchor="middle">6</text>
<text x="462.2" y="250.7" class="tl" text-anchor="middle">7</text>
<text x="493.7" y="250.7" class="tl" text-anchor="middle">8</text>
<text x="525.5" y="250.7" class="tl" text-anchor="middle">9</text>
<text class="tl" text-anchor="middle" transform="translate(384.5 154) rotate(-90)">9</text>
<text class="tl" text-anchor="middle" transform="translate(384.5 172) rotate(-90)">8</text>
<text class="tl" text-anchor="middle" transform="translate(384.5 190.6) rotate(-90)">7</text>
<text class="tl" text-anchor="middle" transform="translate(384.5 209.1) rotate(-90)">6</text>
<text class="tl" text-anchor="middle" transform="translate(384.5 227.7) rotate(-90)">5</text>
<text x="370.6" y="147.6" class="lab" textLength="7.6" lengthAdjust="spacingAndGlyphs">(f)</text>
<text class="eq" transform="translate(395.2 160.6) scale(0.9621 1)">R<tspan dy="-1.9" class="sup">2</tspan><tspan dy="1.3" dx="1.4" class="op">=</tspan><tspan dx="1.3" dy="0.6">0.975</tspan></text>
<text class="eq" transform="translate(395.2 168.6) scale(0.9648 1)">y<tspan dy="-1.9" class="sup">2</tspan><tspan dy="1.3" dx="1.4" class="op">=</tspan><tspan dx="1.3" dy="0.6">1.02x</tspan><tspan dx="1.3" dy="-0.6" class="op">–</tspan><tspan dx="1.3" dy="0.6">0.42</tspan></text>
<text x="425.7" y="259.7" class="ax" textLength="73.7" lengthAdjust="spacingAndGlyphs">SmartGrain width <tspan class="pp" dy="-1.0">(</tspan><tspan dy="1.0">mm</tspan><tspan class="pp" dy="-1.0">)</tspan><tspan dy="1.0"></tspan></text>
<text class="ax yl nb" transform="translate(375.9 224.8) rotate(-90)" textLength="68.3" lengthAdjust="spacingAndGlyphs">Algorithm width <tspan class="pp" dy="-1.0">(</tspan><tspan dy="1.0">mm</tspan><tspan class="pp" dy="-1.0">)</tspan><tspan dy="1.0"></tspan></text>
<clipPath id="cg"><rect x="30.2" y="291.5" width="153.1" height="88.7"/></clipPath>
<g clip-path="url(#cg)" fill="none">
<line x1="36.2" y1="353.58" x2="177.7" y2="289.54" stroke="#e5474d" stroke-width="1.25"/>
<line x1="36.2" y1="395.98" x2="177.7" y2="331.94" stroke="#e5474d" stroke-width="1.25"/>
<polyline points="36.2,370.64 42.1,368.19 47.99,365.71 53.89,363.21 59.78,360.69 65.68,358.13 71.58,355.53 77.47,352.9 83.37,350.23 89.26,347.52 95.16,344.77 101.05,341.99 106.95,339.18 112.85,336.33 118.74,333.47 124.64,330.58 130.53,327.68 136.43,324.76 142.32,321.83 148.22,318.89 154.12,315.93 160.01,312.98 165.91,310.01 171.8,307.04 177.7,304.06" stroke="#38e038" stroke-width="3.0" opacity="0.16"/>
<polyline points="36.2,370.64 42.1,368.19 47.99,365.71 53.89,363.21 59.78,360.69 65.68,358.13 71.58,355.53 77.47,352.9 83.37,350.23 89.26,347.52 95.16,344.77 101.05,341.99 106.95,339.18 112.85,336.33 118.74,333.47 124.64,330.58 130.53,327.68 136.43,324.76 142.32,321.83 148.22,318.89 154.12,315.93 160.01,312.98 165.91,310.01 171.8,307.04 177.7,304.06" stroke="#38e038" stroke-width="1.45" opacity="1"/>
<polyline points="36.2,378.92 42.1,376.04 47.99,373.18 53.89,370.34 59.78,367.53 65.68,364.75 71.58,362.01 77.47,359.31 83.37,356.64 89.26,354.01 95.16,351.42 101.05,348.87 106.95,346.35 112.85,343.85 118.74,341.38 124.64,338.93 130.53,336.5 136.43,334.08 142.32,331.67 148.22,329.28 154.12,326.89 160.01,324.51 165.91,322.14 171.8,319.78 177.7,317.42" stroke="#38e038" stroke-width="3.0" opacity="0.16"/>
<polyline points="36.2,378.92 42.1,376.04 47.99,373.18 53.89,370.34 59.78,367.53 65.68,364.75 71.58,362.01 77.47,359.31 83.37,356.64 89.26,354.01 95.16,351.42 101.05,348.87 106.95,346.35 112.85,343.85 118.74,341.38 124.64,338.93 130.53,336.5 136.43,334.08 142.32,331.67 148.22,329.28 154.12,326.89 160.01,324.51 165.91,322.14 171.8,319.78 177.7,317.42" stroke="#38e038" stroke-width="1.45" opacity="0.85"/>
<line x1="30.2" y1="377.5" x2="183.3" y2="308.2" stroke="#8c8cf0" stroke-width="0.9"/>
<path d="M36.47 372.11h1.6v1.6h-1.6zM35.75 374.29h1.6v1.6h-1.6zM38.65 366.29h1.6v1.6h-1.6zM39.09 368.47h1.6v1.6h-1.6zM44.47 361.2h1.6v1.6h-1.6zM44.47 368.47h1.6v1.6h-1.6zM45.2 372.11h1.6v1.6h-1.6zM45.93 375.02h1.6v1.6h-1.6zM47.38 372.84h1.6v1.6h-1.6zM48.11 369.93h1.6v1.6h-1.6zM49.56 375.02h1.6v1.6h-1.6zM51.02 366.29h1.6v1.6h-1.6zM53.2 372.84h1.6v1.6h-1.6zM53.93 375.75h1.6v1.6h-1.6zM54.65 371.38h1.6v1.6h-1.6zM55.38 370.65h1.6v1.6h-1.6zM56.84 362.65h1.6v1.6h-1.6zM58.29 364.84h1.6v1.6h-1.6zM59.02 369.93h1.6v1.6h-1.6zM59.75 354.65h1.6v1.6h-1.6zM59.75 357.56h1.6v1.6h-1.6zM61.93 372.84h1.6v1.6h-1.6zM64.11 361.2h1.6v1.6h-1.6zM66.29 352.47h1.6v1.6h-1.6zM66.29 370.65h1.6v1.6h-1.6zM67.75 359.02h1.6v1.6h-1.6zM68.47 363.38h1.6v1.6h-1.6zM71.38 364.84h1.6v1.6h-1.6zM71.38 347.38h1.6v1.6h-1.6zM72.84 349.56h1.6v1.6h-1.6zM73.56 348.11h1.6v1.6h-1.6zM74.29 346.65h1.6v1.6h-1.6zM75.02 349.56h1.6v1.6h-1.6zM75.75 348.84h1.6v1.6h-1.6zM77.2 347.38h1.6v1.6h-1.6zM76.47 351.02h1.6v1.6h-1.6zM77.93 346.65h1.6v1.6h-1.6zM78.65 353.93h1.6v1.6h-1.6zM79.38 355.38h1.6v1.6h-1.6zM80.11 364.11h1.6v1.6h-1.6zM80.84 357.56h1.6v1.6h-1.6zM81.56 351.02h1.6v1.6h-1.6zM82.29 347.38h1.6v1.6h-1.6zM83.02 358.29h1.6v1.6h-1.6zM84.47 344.47h1.6v1.6h-1.6zM85.2 339.38h1.6v1.6h-1.6zM85.93 337.93h1.6v1.6h-1.6zM86.65 338.65h1.6v1.6h-1.6zM87.38 346.65h1.6v1.6h-1.6zM88.11 356.11h1.6v1.6h-1.6zM88.84 342.29h1.6v1.6h-1.6zM89.56 354.65h1.6v1.6h-1.6zM90.29 345.2h1.6v1.6h-1.6zM91.02 361.93h1.6v1.6h-1.6zM92.47 341.56h1.6v1.6h-1.6zM93.2 349.56h1.6v1.6h-1.6zM93.93 345.2h1.6v1.6h-1.6zM95.38 337.2h1.6v1.6h-1.6zM99.75 335.75h1.6v1.6h-1.6zM100.47 359.02h1.6v1.6h-1.6zM101.2 353.93h1.6v1.6h-1.6zM101.93 361.2h1.6v1.6h-1.6zM102.65 329.93h1.6v1.6h-1.6zM97.56 361.93h1.6v1.6h-1.6zM111.18 314.84h1.6v1.6h-1.6zM111.47 319.93h1.6v1.6h-1.6zM122.38 323.85h1.6v1.6h-1.6zM120.93 334.47h1.6v1.6h-1.6zM131.84 332.29h1.6v1.6h-1.6zM138.38 329.38h1.6v1.6h-1.6zM142.75 310.47h1.6v1.6h-1.6zM149 311.2h1.6v1.6h-1.6zM166.02 301.31h1.6v1.6h-1.6zM177.22 293.75h1.6v1.6h-1.6zM165 325.75h1.6v1.6h-1.6zM110.02 338.11h1.6v1.6h-1.6zM120.93 334.29h1.6v1.6h-1.6zM131.84 332.11h1.6v1.6h-1.6zM140.56 342h1.6v1.6h-1.6zM124.56 346.95h1.6v1.6h-1.6zM111.47 352.18h1.6v1.6h-1.6zM107.84 358h1.6v1.6h-1.6zM131.84 351.31h1.6v1.6h-1.6zM149.29 356.84h1.6v1.6h-1.6zM112.93 369.2h1.6v1.6h-1.6zM102.8 309.8h1.6v1.6h-1.6z" fill="#24243a"/>
</g>
<rect x="30.2" y="291.5" width="153.1" height="88.7" fill="none" stroke="#c0c0c0" stroke-width="1.15"/>
<path d="M38 380.2v1.8M57.6 380.2v1.8M77.2 380.2v1.8M97 380.2v1.8M117 380.2v1.8M136.6 380.2v1.8M156.2 380.2v1.8M176 380.2v1.8M30.2 292.4h-1.8M30.2 304.3h-1.8M30.2 316.1h-1.8M30.2 328.7h-1.8M30.2 341.3h-1.8M30.2 353.3h-1.8M30.2 365.9h-1.8M30.2 377.4h-1.8" stroke="#888" stroke-width="0.8" fill="none"/>
<text x="38" y="387.7" class="tl" text-anchor="middle">1.00</text>
<text x="57.6" y="387.7" class="tl" text-anchor="middle">1.05</text>
<text x="77.2" y="387.7" class="tl" text-anchor="middle">1.10</text>
<text x="97" y="387.7" class="tl" text-anchor="middle">1.15</text>
<text x="117" y="387.7" class="tl" text-anchor="middle">1.20</text>
<text x="136.6" y="387.7" class="tl" text-anchor="middle">1.25</text>
<text x="156.2" y="387.7" class="tl" text-anchor="middle">1.30</text>
<text x="176" y="387.7" class="tl" text-anchor="middle">1.35</text>
<text class="tl" text-anchor="middle" transform="translate(27.5 292.4) rotate(-90)">1.35</text>
<text class="tl" text-anchor="middle" transform="translate(27.5 304.3) rotate(-90)">1.30</text>
<text class="tl" text-anchor="middle" transform="translate(27.5 316.1) rotate(-90)">1.25</text>
<text class="tl" text-anchor="middle" transform="translate(27.5 328.7) rotate(-90)">1.20</text>
<text class="tl" text-anchor="middle" transform="translate(27.5 341.3) rotate(-90)">1.15</text>
<text class="tl" text-anchor="middle" transform="translate(27.5 353.3) rotate(-90)">1.10</text>
<text class="tl" text-anchor="middle" transform="translate(27.5 365.9) rotate(-90)">1.05</text>
<text class="tl" text-anchor="middle" transform="translate(27.5 377.4) rotate(-90)">1.00</text>
<text x="11" y="290.6" class="lab" textLength="8.8" lengthAdjust="spacingAndGlyphs">(g)</text>
<text class="eq" transform="translate(36.5 303.4) scale(0.9359 1)">R<tspan dy="-1.9" class="sup">2</tspan><tspan dy="1.3" dx="1.4" class="op">=</tspan><tspan dx="1.3" dy="0.6">0.633</tspan></text>
<text class="eq" transform="translate(36.5 311) scale(0.9293 1)">y<tspan dy="-1.9" class="sup">2</tspan><tspan dy="1.3" dx="1.4" class="op">=</tspan><tspan dx="1.3" dy="0.6">0.74x</tspan><tspan dx="1.3" dy="-0.6" class="op">+</tspan><tspan dx="1.3" dy="0.6">0.27</tspan></text>
<text x="86.2" y="395.5" class="ax" textLength="34.7" lengthAdjust="spacingAndGlyphs">Actual ratio</text>
<text class="ax yl" transform="translate(21 367) rotate(-90)" textLength="47" lengthAdjust="spacingAndGlyphs">Algorithm ratio</text>
<clipPath id="ch"><rect x="210" y="291" width="152.3" height="92"/></clipPath>
<g clip-path="url(#ch)" fill="none">
<line x1="216" y1="340.05" x2="357.2" y2="289.36" stroke="#e5474d" stroke-width="1.25"/>
<line x1="216" y1="396.05" x2="357.2" y2="345.36" stroke="#e5474d" stroke-width="1.25"/>
<polyline points="216,364.08 221.88,362.23 227.77,360.33 233.65,358.38 239.53,356.37 245.42,354.29 251.3,352.13 257.18,349.91 263.07,347.63 268.95,345.29 274.83,342.91 280.72,340.5 286.6,338.05 292.48,335.59 298.37,333.1 304.25,330.6 310.13,328.08 316.02,325.56 321.9,323.03 327.78,320.49 333.67,317.94 339.55,315.39 345.43,312.84 351.32,310.28 357.2,307.72" stroke="#38e038" stroke-width="3.0" opacity="0.16"/>
<polyline points="216,364.08 221.88,362.23 227.77,360.33 233.65,358.38 239.53,356.37 245.42,354.29 251.3,352.13 257.18,349.91 263.07,347.63 268.95,345.29 274.83,342.91 280.72,340.5 286.6,338.05 292.48,335.59 298.37,333.1 304.25,330.6 310.13,328.08 316.02,325.56 321.9,323.03 327.78,320.49 333.67,317.94 339.55,315.39 345.43,312.84 351.32,310.28 357.2,307.72" stroke="#38e038" stroke-width="1.45" opacity="1"/>
<polyline points="216,372.02 221.88,369.64 227.77,367.31 233.65,365.04 239.53,362.83 245.42,360.69 251.3,358.61 257.18,356.61 263.07,354.67 268.95,352.78 274.83,350.93 280.72,349.13 286.6,347.35 292.48,345.59 298.37,343.85 304.25,342.13 310.13,340.42 316.02,338.72 321.9,337.03 327.78,335.35 333.67,333.67 339.55,331.99 345.43,330.32 351.32,328.65 357.2,326.99" stroke="#38e038" stroke-width="3.0" opacity="0.16"/>
<polyline points="216,372.02 221.88,369.64 227.77,367.31 233.65,365.04 239.53,362.83 245.42,360.69 251.3,358.61 257.18,356.61 263.07,354.67 268.95,352.78 274.83,350.93 280.72,349.13 286.6,347.35 292.48,345.59 298.37,343.85 304.25,342.13 310.13,340.42 316.02,338.72 321.9,337.03 327.78,335.35 333.67,333.67 339.55,331.99 345.43,330.32 351.32,328.65 357.2,326.99" stroke="#38e038" stroke-width="1.45" opacity="0.85"/>
<line x1="210" y1="370.2" x2="362.3" y2="315.52" stroke="#8c8cf0" stroke-width="0.9"/>
<path d="M233.22 335.75h1.6v1.6h-1.6zM233.22 339.38h1.6v1.6h-1.6zM231.18 343.45h1.6v1.6h-1.6zM241.95 340.11h1.6v1.6h-1.6zM242.38 341.56h1.6v1.6h-1.6zM243.11 343.75h1.6v1.6h-1.6zM222.75 348.11h1.6v1.6h-1.6zM224.93 348.11h1.6v1.6h-1.6zM231.76 349.85h1.6v1.6h-1.6zM237 349.85h1.6v1.6h-1.6zM241.95 346.36h1.6v1.6h-1.6zM243.11 351.02h1.6v1.6h-1.6zM243.84 348.84h1.6v1.6h-1.6zM221.29 354.65h1.6v1.6h-1.6zM235.11 353.2h1.6v1.6h-1.6zM237.29 352.18h1.6v1.6h-1.6zM225.36 357.56h1.6v1.6h-1.6zM227.84 358h1.6v1.6h-1.6zM228.56 360.04h1.6v1.6h-1.6zM231.47 361.49h1.6v1.6h-1.6zM237 360.91h1.6v1.6h-1.6zM240.49 359.75h1.6v1.6h-1.6zM246.31 354.65h1.6v1.6h-1.6zM250.67 351.02h1.6v1.6h-1.6zM253.29 352.47h1.6v1.6h-1.6zM252.56 333.56h1.6v1.6h-1.6zM254.45 331.38h1.6v1.6h-1.6zM259.11 351.31h1.6v1.6h-1.6zM260.85 351.02h1.6v1.6h-1.6zM262.31 352.76h1.6v1.6h-1.6zM265.65 349.56h1.6v1.6h-1.6zM269.29 347.38h1.6v1.6h-1.6zM271.47 347.82h1.6v1.6h-1.6zM274.38 351.02h1.6v1.6h-1.6zM262.02 356.55h1.6v1.6h-1.6zM257.65 356.84h1.6v1.6h-1.6zM267.11 354.65h1.6v1.6h-1.6zM274.82 356.84h1.6v1.6h-1.6zM277.73 360.04h1.6v1.6h-1.6zM280.93 356.11h1.6v1.6h-1.6zM283.4 364.11h1.6v1.6h-1.6zM286.02 351.02h1.6v1.6h-1.6zM286.02 340.11h1.6v1.6h-1.6zM250.38 360.91h1.6v1.6h-1.6zM254.45 360.91h1.6v1.6h-1.6zM218.09 365.27h1.6v1.6h-1.6zM221.58 366.73h1.6v1.6h-1.6zM222.02 368.47h1.6v1.6h-1.6zM229.29 368.47h1.6v1.6h-1.6zM234.38 369.2h1.6v1.6h-1.6zM240.93 362.95h1.6v1.6h-1.6zM244.56 364.11h1.6v1.6h-1.6zM243.84 368.18h1.6v1.6h-1.6zM237.29 364.11h1.6v1.6h-1.6zM214.75 372.11h1.6v1.6h-1.6zM223.47 371.67h1.6v1.6h-1.6zM223.91 373.56h1.6v1.6h-1.6zM230.75 371.67h1.6v1.6h-1.6zM234.38 372.84h1.6v1.6h-1.6zM235.11 374.58h1.6v1.6h-1.6zM233.65 375.45h1.6v1.6h-1.6zM240.49 372.84h1.6v1.6h-1.6zM246.31 373.56h1.6v1.6h-1.6zM219.11 376.04h1.6v1.6h-1.6zM218.67 378.65h1.6v1.6h-1.6zM221.58 377.93h1.6v1.6h-1.6zM224.49 377.2h1.6v1.6h-1.6zM225.65 378.95h1.6v1.6h-1.6zM227.4 379.38h1.6v1.6h-1.6zM229.73 376.47h1.6v1.6h-1.6zM234.09 378.65h1.6v1.6h-1.6zM245.73 379.38h1.6v1.6h-1.6zM260.85 373.56h1.6v1.6h-1.6zM264.93 372.84h1.6v1.6h-1.6zM264.93 366.29h1.6v1.6h-1.6zM356.22 293.75h1.6v1.6h-1.6zM307.93 311.93h1.6v1.6h-1.6zM314.91 310.47h1.6v1.6h-1.6zM335.56 310.76h1.6v1.6h-1.6zM344.58 316h1.6v1.6h-1.6zM321.75 326.76h1.6v1.6h-1.6zM310.55 330.55h1.6v1.6h-1.6zM297.75 339.27h1.6v1.6h-1.6zM234.67 325.31h1.6v1.6h-1.6zM245.73 320.65h1.6v1.6h-1.6zM335.56 344.04h1.6v1.6h-1.6zM314.04 348.84h1.6v1.6h-1.6zM288.29 355.09h1.6v1.6h-1.6z" fill="#24243a"/>
</g>
<rect x="210" y="291" width="152.3" height="92" fill="none" stroke="#c0c0c0" stroke-width="1.15"/>
<path d="M214.2 383v1.8M251.5 383v1.8M289.5 383v1.8M327.7 383v1.8M210 292.4h-1.8M210 305.2h-1.8M210 318h-1.8M210 330.8h-1.8M210 343.2h-1.8M210 355.8h-1.8M210 368.6h-1.8M210 381.3h-1.8" stroke="#888" stroke-width="0.8" fill="none"/>
<text x="214.2" y="390.7" class="tl" text-anchor="middle">1.0</text>
<text x="251.5" y="390.7" class="tl" text-anchor="middle">1.1</text>
<text x="289.5" y="390.7" class="tl" text-anchor="middle">1.2</text>
<text x="327.7" y="390.7" class="tl" text-anchor="middle">1.3</text>
<text class="tl" text-anchor="middle" transform="translate(204.5 292.4) rotate(-90)">1.35</text>
<text class="tl" text-anchor="middle" transform="translate(204.5 305.2) rotate(-90)">1.30</text>
<text class="tl" text-anchor="middle" transform="translate(204.5 318) rotate(-90)">1.25</text>
<text class="tl" text-anchor="middle" transform="translate(204.5 330.8) rotate(-90)">1.20</text>
<text class="tl" text-anchor="middle" transform="translate(204.5 343.2) rotate(-90)">1.15</text>
<text class="tl" text-anchor="middle" transform="translate(204.5 355.8) rotate(-90)">1.10</text>
<text class="tl" text-anchor="middle" transform="translate(204.5 368.6) rotate(-90)">1.05</text>
<text class="tl" text-anchor="middle" transform="translate(204.5 381.3) rotate(-90)">1.00</text>
<text x="188" y="290.8" class="lab" textLength="9" lengthAdjust="spacingAndGlyphs">(h)</text>
<text class="eq" transform="translate(218.6 303.4) scale(0.9555 1)">R<tspan dy="-1.9" class="sup">2</tspan><tspan dy="1.3" dx="1.4" class="op">=</tspan><tspan dx="1.3" dy="0.6">0.394</tspan></text>
<text class="eq" transform="translate(218.6 310.8) scale(0.9520 1)">y<tspan dy="-1.9" class="sup">2</tspan><tspan dy="1.3" dx="1.4" class="op">=</tspan><tspan dx="1.3" dy="0.6">0.54x</tspan><tspan dx="1.3" dy="-0.6" class="op">+</tspan><tspan dx="1.3" dy="0.6">0.51</tspan></text>
<text x="256.4" y="397.7" class="ax" textLength="45.8" lengthAdjust="spacingAndGlyphs">WinDIAS ratio</text>
<text class="ax yl" transform="translate(198.2 357.3) rotate(-90)" textLength="45.8" lengthAdjust="spacingAndGlyphs">Algorithm ratio</text>
<clipPath id="ci"><rect x="390.4" y="291.5" width="152.8" height="92.3"/></clipPath>
<g clip-path="url(#ci)" fill="none">
<line x1="396" y1="365.31" x2="537.6" y2="283.89" stroke="#e5474d" stroke-width="1.25"/>
<line x1="396" y1="400.31" x2="537.6" y2="318.89" stroke="#e5474d" stroke-width="1.25"/>
<polyline points="396,379.67 401.9,376.52 407.8,373.36 413.7,370.17 419.6,366.95 425.5,363.7 431.4,360.4 437.3,357.06 443.2,353.66 449.1,350.22 455,346.72 460.9,343.19 466.8,339.62 472.7,336.02 478.6,332.4 484.5,328.76 490.4,325.11 496.3,321.45 502.2,317.78 508.1,314.11 514,310.43 519.9,306.74 525.8,303.05 531.7,299.36 537.6,295.66" stroke="#38e038" stroke-width="3.0" opacity="0.16"/>
<polyline points="396,379.67 401.9,376.52 407.8,373.36 413.7,370.17 419.6,366.95 425.5,363.7 431.4,360.4 437.3,357.06 443.2,353.66 449.1,350.22 455,346.72 460.9,343.19 466.8,339.62 472.7,336.02 478.6,332.4 484.5,328.76 490.4,325.11 496.3,321.45 502.2,317.78 508.1,314.11 514,310.43 519.9,306.74 525.8,303.05 531.7,299.36 537.6,295.66" stroke="#38e038" stroke-width="1.45" opacity="1"/>
<polyline points="396,385.95 401.9,382.32 407.8,378.7 413.7,375.1 419.6,371.54 425.5,368 431.4,364.51 437.3,361.07 443.2,357.68 449.1,354.34 455,351.05 460.9,347.8 466.8,344.59 472.7,341.4 478.6,338.23 484.5,335.09 490.4,331.95 496.3,328.83 502.2,325.71 508.1,322.6 514,319.5 519.9,316.4 525.8,313.3 531.7,310.21 537.6,307.12" stroke="#38e038" stroke-width="3.0" opacity="0.16"/>
<polyline points="396,385.95 401.9,382.32 407.8,378.7 413.7,375.1 419.6,371.54 425.5,368 431.4,364.51 437.3,361.07 443.2,357.68 449.1,354.34 455,351.05 460.9,347.8 466.8,344.59 472.7,341.4 478.6,338.23 484.5,335.09 490.4,331.95 496.3,328.83 502.2,325.71 508.1,322.6 514,319.5 519.9,316.4 525.8,313.3 531.7,310.21 537.6,307.12" stroke="#38e038" stroke-width="1.45" opacity="0.85"/>
<line x1="390.4" y1="386.03" x2="543.2" y2="298.17" stroke="#8c8cf0" stroke-width="0.9"/>
<path d="M443.31 339.67h1.6v1.6h-1.6zM454.36 339.67h1.6v1.6h-1.6zM458.29 340.11h1.6v1.6h-1.6zM451.75 343.75h1.6v1.6h-1.6zM455.38 343.02h1.6v1.6h-1.6zM429.93 348.11h1.6v1.6h-1.6zM434.29 349.56h1.6v1.6h-1.6zM435.45 350.29h1.6v1.6h-1.6zM436.47 351.02h1.6v1.6h-1.6zM437.93 351.02h1.6v1.6h-1.6zM440.11 347.82h1.6v1.6h-1.6zM446.65 346.95h1.6v1.6h-1.6zM447.38 351.02h1.6v1.6h-1.6zM448.84 351.75h1.6v1.6h-1.6zM429.2 352.18h1.6v1.6h-1.6zM430.65 353.93h1.6v1.6h-1.6zM431.38 355.38h1.6v1.6h-1.6zM432.11 356.84h1.6v1.6h-1.6zM440.84 354.65h1.6v1.6h-1.6zM443.75 355.38h1.6v1.6h-1.6zM445.2 356.11h1.6v1.6h-1.6zM442.29 358h1.6v1.6h-1.6zM421.2 357.56h1.6v1.6h-1.6zM420.47 360.47h1.6v1.6h-1.6zM420.04 361.49h1.6v1.6h-1.6zM432.84 360.47h1.6v1.6h-1.6zM440.84 360.04h1.6v1.6h-1.6zM443.75 360.91h1.6v1.6h-1.6zM448.11 360.91h1.6v1.6h-1.6zM449.56 360.47h1.6v1.6h-1.6zM453.93 357.13h1.6v1.6h-1.6zM460.47 354.22h1.6v1.6h-1.6zM412.47 364.4h1.6v1.6h-1.6zM427.02 364.84h1.6v1.6h-1.6zM431.38 363.38h1.6v1.6h-1.6zM459.02 364.4h1.6v1.6h-1.6zM461.64 365.27h1.6v1.6h-1.6zM437.93 367.31h1.6v1.6h-1.6zM440.4 367.02h1.6v1.6h-1.6zM415.38 367.75h1.6v1.6h-1.6zM416.84 369.64h1.6v1.6h-1.6zM411.75 371.38h1.6v1.6h-1.6zM413.2 372.55h1.6v1.6h-1.6zM410.29 369.64h1.6v1.6h-1.6zM425.56 374h1.6v1.6h-1.6zM432.55 372.55h1.6v1.6h-1.6zM440.11 372.84h1.6v1.6h-1.6zM457.56 374h1.6v1.6h-1.6zM401.13 372.84h1.6v1.6h-1.6zM405.2 374.58h1.6v1.6h-1.6zM395.02 376.47h1.6v1.6h-1.6zM399.38 376.91h1.6v1.6h-1.6zM400.84 378.36h1.6v1.6h-1.6zM403.75 378.65h1.6v1.6h-1.6zM409.56 377.49h1.6v1.6h-1.6zM416.84 376.04h1.6v1.6h-1.6zM419.75 376.91h1.6v1.6h-1.6zM414.65 378.95h1.6v1.6h-1.6zM423.38 379.82h1.6v1.6h-1.6zM536.64 293.75h1.6v1.6h-1.6zM524.13 301.75h1.6v1.6h-1.6zM503.47 310.76h1.6v1.6h-1.6zM521.65 311.2h1.6v1.6h-1.6zM491.55 312.22h1.6v1.6h-1.6zM483.84 316.29h1.6v1.6h-1.6zM478.02 320.95h1.6v1.6h-1.6zM487.47 327.64h1.6v1.6h-1.6zM500.56 325.31h1.6v1.6h-1.6zM475.55 331.56h1.6v1.6h-1.6zM477.58 330.84h1.6v1.6h-1.6zM471.47 333.75h1.6v1.6h-1.6zM471.47 336.36h1.6v1.6h-1.6zM465.36 338.11h1.6v1.6h-1.6zM473.22 349.27h1.6v1.6h-1.6zM474.67 360.91h1.6v1.6h-1.6z" fill="#24243a"/>
</g>
<rect x="390.4" y="291.5" width="152.8" height="92.3" fill="none" stroke="#c0c0c0" stroke-width="1.15"/>
<path d="M409.6 383.8v1.8M431.1 383.8v1.8M452.7 383.8v1.8M473.3 383.8v1.8M494 383.8v1.8M515 383.8v1.8M536.2 383.8v1.8M390.4 292.4h-1.8M390.4 305h-1.8M390.4 317.6h-1.8M390.4 330.6h-1.8M390.4 343.6h-1.8M390.4 356.5h-1.8M390.4 369.4h-1.8M390.4 381.9h-1.8" stroke="#888" stroke-width="0.8" fill="none"/>
<text x="409.6" y="391.7" class="tl" text-anchor="middle">1.05</text>
<text x="431.1" y="391.7" class="tl" text-anchor="middle">1.10</text>
<text x="452.7" y="391.7" class="tl" text-anchor="middle">1.15</text>
<text x="473.3" y="391.7" class="tl" text-anchor="middle">1.20</text>
<text x="494" y="391.7" class="tl" text-anchor="middle">1.25</text>
<text x="515" y="391.7" class="tl" text-anchor="middle">1.30</text>
<text x="536.2" y="391.7" class="tl" text-anchor="middle">1.35</text>
<text class="tl" text-anchor="middle" transform="translate(389.5 292.4) rotate(-90)">1.35</text>
<text class="tl" text-anchor="middle" transform="translate(389.5 305) rotate(-90)">1.30</text>
<text class="tl" text-anchor="middle" transform="translate(389.5 317.6) rotate(-90)">1.25</text>
<text class="tl" text-anchor="middle" transform="translate(389.5 330.6) rotate(-90)">1.20</text>
<text class="tl" text-anchor="middle" transform="translate(389.5 343.6) rotate(-90)">1.15</text>
<text class="tl" text-anchor="middle" transform="translate(389.5 356.5) rotate(-90)">1.10</text>
<text class="tl" text-anchor="middle" transform="translate(389.5 369.4) rotate(-90)">1.05</text>
<text class="tl" text-anchor="middle" transform="translate(389.5 381.9) rotate(-90)">1.00</text>
<text x="375.2" y="290.6" class="lab" textLength="6.1" lengthAdjust="spacingAndGlyphs">(i)</text>
<text class="eq" transform="translate(397.3 302.6) scale(0.9457 1)">R<tspan dy="-1.9" class="sup">2</tspan><tspan dy="1.3" dx="1.4" class="op">=</tspan><tspan dx="1.3" dy="0.6">0.775</tspan></text>
<text class="eq" transform="translate(397.3 310) scale(0.9458 1)">y<tspan dy="-1.9" class="sup">2</tspan><tspan dy="1.3" dx="1.4" class="op">=</tspan><tspan dx="1.3" dy="0.6">0.94x</tspan><tspan dx="1.3" dy="-0.6" class="op">+</tspan><tspan dx="1.3" dy="0.6">0.04</tspan></text>
<text x="443.4" y="399.3" class="ax" textLength="51.1" lengthAdjust="spacingAndGlyphs">SmartGrain ratio</text>
<text class="ax yl" transform="translate(380 365.8) rotate(-90)" textLength="45.2" lengthAdjust="spacingAndGlyphs">Algorithm ratio</text>
<clipPath id="cj"><rect x="29.6" y="409.2" width="152.7" height="91.8"/></clipPath>
<g clip-path="url(#cj)" fill="none">
<line x1="35" y1="489.4" x2="177.8" y2="402.15" stroke="#ef6a74" stroke-width="1.0"/>
<line x1="35" y1="502.6" x2="177.8" y2="415.35" stroke="#ef6a74" stroke-width="1.0"/>
<line x1="35" y1="494.7" x2="177.8" y2="407.45" stroke="#72e964" stroke-width="1.3"/>
<line x1="35" y1="497.3" x2="177.8" y2="410.05" stroke="#72e964" stroke-width="1.3"/>
<line x1="29.6" y1="499.3" x2="182.3" y2="406" stroke="#8c8cf0" stroke-width="0.9"/>
<path d="M34.75 495.02h1.6v1.6h-1.6zM35.47 496.47h1.6v1.6h-1.6zM36.64 493.56h1.6v1.6h-1.6zM40.13 483.82h1.6v1.6h-1.6zM40.56 491.38h1.6v1.6h-1.6zM41.58 493.56h1.6v1.6h-1.6zM42.75 491.38h1.6v1.6h-1.6zM44.93 475.38h1.6v1.6h-1.6zM45.36 488.47h1.6v1.6h-1.6zM46.38 488.76h1.6v1.6h-1.6zM47.4 488.18h1.6v1.6h-1.6zM50.02 482.95h1.6v1.6h-1.6zM50.31 486.29h1.6v1.6h-1.6zM51.47 484.11h1.6v1.6h-1.6zM55.11 483.82h1.6v1.6h-1.6zM56.13 482.36h1.6v1.6h-1.6zM58.02 476.84h1.6v1.6h-1.6zM58.75 480.91h1.6v1.6h-1.6zM59.91 479.75h1.6v1.6h-1.6zM61.36 479.02h1.6v1.6h-1.6zM62.38 478h1.6v1.6h-1.6zM63.84 476.84h1.6v1.6h-1.6zM64.56 475.09h1.6v1.6h-1.6zM65.73 474.22h1.6v1.6h-1.6zM66.31 476.55h1.6v1.6h-1.6zM67.47 473.64h1.6v1.6h-1.6zM69.65 474.65h1.6v1.6h-1.6zM70.67 473.93h1.6v1.6h-1.6zM73.29 473.2h1.6v1.6h-1.6zM77.65 471.02h1.6v1.6h-1.6zM78.82 470.29h1.6v1.6h-1.6zM79.4 469.56h1.6v1.6h-1.6zM83.18 465.49h1.6v1.6h-1.6zM90.75 459.38h1.6v1.6h-1.6zM95.11 462.29h1.6v1.6h-1.6zM95.84 459.09h1.6v1.6h-1.6zM96.56 458.22h1.6v1.6h-1.6zM97.29 453.56h1.6v1.6h-1.6zM98.75 457.2h1.6v1.6h-1.6zM99.47 456.47h1.6v1.6h-1.6zM106.75 450.65h1.6v1.6h-1.6zM107.31 449.67h1.6v1.6h-1.6zM108.18 447.64h1.6v1.6h-1.6zM110.22 442.84h1.6v1.6h-1.6zM110.65 445.31h1.6v1.6h-1.6zM112.11 449.09h1.6v1.6h-1.6zM114 446.47h1.6v1.6h-1.6zM115.02 447.93h1.6v1.6h-1.6zM117.93 445.75h1.6v1.6h-1.6zM119.38 445.02h1.6v1.6h-1.6zM121.56 444.29h1.6v1.6h-1.6zM122.29 442.11h1.6v1.6h-1.6zM122.73 438.91h1.6v1.6h-1.6zM123.31 435.13h1.6v1.6h-1.6zM123.75 437.02h1.6v1.6h-1.6zM124.47 439.93h1.6v1.6h-1.6zM125.2 440.95h1.6v1.6h-1.6zM125.93 438.04h1.6v1.6h-1.6zM126.65 443.56h1.6v1.6h-1.6zM127.67 442.11h1.6v1.6h-1.6zM130.29 435.56h1.6v1.6h-1.6zM132.47 434.84h1.6v1.6h-1.6zM135.38 431.2h1.6v1.6h-1.6zM136.11 433.38h1.6v1.6h-1.6zM138.29 424.36h1.6v1.6h-1.6zM138.73 430.18h1.6v1.6h-1.6zM139.31 434.55h1.6v1.6h-1.6zM139.75 431.64h1.6v1.6h-1.6zM140.47 427.56h1.6v1.6h-1.6zM141.2 430.47h1.6v1.6h-1.6zM141.93 431.64h1.6v1.6h-1.6zM142.65 420h1.6v1.6h-1.6zM143.09 430.18h1.6v1.6h-1.6zM143.38 429.02h1.6v1.6h-1.6zM144.11 431.2h1.6v1.6h-1.6zM144.84 421.02h1.6v1.6h-1.6zM145.56 429.02h1.6v1.6h-1.6zM146.29 427.27h1.6v1.6h-1.6zM147.75 428.29h1.6v1.6h-1.6zM148.91 429.02h1.6v1.6h-1.6zM153.56 423.2h1.6v1.6h-1.6zM160.84 418.55h1.6v1.6h-1.6zM163.45 419.13h1.6v1.6h-1.6zM171.75 413.75h1.6v1.6h-1.6zM176.11 411.56h1.6v1.6h-1.6z" fill="#24243a"/>
</g>
<rect x="29.6" y="409.2" width="152.7" height="91.8" fill="none" stroke="#c0c0c0" stroke-width="1.15"/>
<path d="M40.1 501v1.8M66.6 501v1.8M92.5 501v1.8M118.4 501v1.8M144.8 501v1.8M170.3 501v1.8M29.6 412.2h-1.8M29.6 428.9h-1.8M29.6 445.2h-1.8M29.6 461.9h-1.8M29.6 478.6h-1.8M29.6 495.5h-1.8" stroke="#888" stroke-width="0.8" fill="none"/>
<text x="40.1" y="508.7" class="tl" text-anchor="middle">20</text>
<text x="66.6" y="508.7" class="tl" text-anchor="middle">30</text>
<text x="92.5" y="508.7" class="tl" text-anchor="middle">40</text>
<text x="118.4" y="508.7" class="tl" text-anchor="middle">50</text>
<text x="144.8" y="508.7" class="tl" text-anchor="middle">60</text>
<text x="170.3" y="508.7" class="tl" text-anchor="middle">70</text>
<text class="tl" text-anchor="middle" transform="translate(24.5 412.2) rotate(-90)">70</text>
<text class="tl" text-anchor="middle" transform="translate(24.5 428.9) rotate(-90)">60</text>
<text class="tl" text-anchor="middle" transform="translate(24.5 445.2) rotate(-90)">50</text>
<text class="tl" text-anchor="middle" transform="translate(24.5 461.9) rotate(-90)">40</text>
<text class="tl" text-anchor="middle" transform="translate(24.5 478.6) rotate(-90)">30</text>
<text class="tl" text-anchor="middle" transform="translate(24.5 495.5) rotate(-90)">20</text>
<text x="12.2" y="410.6" class="lab" textLength="6.1" lengthAdjust="spacingAndGlyphs">(j)</text>
<text class="eq" transform="translate(36.5 417.9) scale(0.9359 1)">R<tspan dy="-1.9" class="sup">2</tspan><tspan dy="1.3" dx="1.4" class="op">=</tspan><tspan dx="1.3" dy="0.6">0.985</tspan></text>
<text class="eq" transform="translate(36.5 425.5) scale(0.9293 1)">y<tspan dy="-1.9" class="sup">2</tspan><tspan dy="1.3" dx="1.4" class="op">=</tspan><tspan dx="1.3" dy="0.6">0.94x</tspan><tspan dx="1.3" dy="-0.6" class="op">+</tspan><tspan dx="1.3" dy="0.6">3.12</tspan></text>
<text x="76" y="518.5" class="ax" textLength="64.2" lengthAdjust="spacingAndGlyphs">WinDIAS area <tspan class="pp" dy="-1.0">(</tspan><tspan dy="1.0">mm2</tspan><tspan class="pp" dy="-1.0">)</tspan><tspan dy="1.0"></tspan></text>
<text class="ax yl" transform="translate(18.7 488.3) rotate(-90)" textLength="65.7" lengthAdjust="spacingAndGlyphs">Algorithm area <tspan class="pp" dy="-1.0">(</tspan><tspan dy="1.0">mm2</tspan><tspan class="pp" dy="-1.0">)</tspan><tspan dy="1.0"></tspan></text>
<clipPath id="ck"><rect x="209.9" y="408.5" width="152.9" height="93.3"/></clipPath>
<g clip-path="url(#ck)" fill="none">
<line x1="215" y1="495.39" x2="358" y2="408.2" stroke="#f0828c" stroke-width="1.0"/>
<line x1="215" y1="501.79" x2="358" y2="414.6" stroke="#f0828c" stroke-width="1.0"/>
<line x1="209.9" y1="501.7" x2="362.8" y2="408.48" stroke="#8c8cf0" stroke-width="0.9"/>
<line x1="215" y1="498.44" x2="358" y2="411.25" stroke="#2fd22f" stroke-width="1.35"/>
<line x1="215" y1="498.74" x2="358" y2="411.55" stroke="#2fd22f" stroke-width="1.35"/>
<path d="M214.31 497.49h1.6v1.6h-1.6zM218.67 494.29h1.6v1.6h-1.6zM219.84 494.58h1.6v1.6h-1.6zM223.47 492.55h1.6v1.6h-1.6zM224.49 491.67h1.6v1.6h-1.6zM225.36 489.93h1.6v1.6h-1.6zM226.38 490.65h1.6v1.6h-1.6zM227.84 490.22h1.6v1.6h-1.6zM229.29 489.64h1.6v1.6h-1.6zM230.02 490.65h1.6v1.6h-1.6zM230.75 488.76h1.6v1.6h-1.6zM236.56 486.29h1.6v1.6h-1.6zM237.29 484.11h1.6v1.6h-1.6zM238.75 483.82h1.6v1.6h-1.6zM240.49 482.95h1.6v1.6h-1.6zM241.65 483.38h1.6v1.6h-1.6zM243.4 482.36h1.6v1.6h-1.6zM244.56 484.11h1.6v1.6h-1.6zM245.73 481.49h1.6v1.6h-1.6zM248.2 478.29h1.6v1.6h-1.6zM249.65 477.56h1.6v1.6h-1.6zM250.38 478.29h1.6v1.6h-1.6zM251.84 475.09h1.6v1.6h-1.6zM252.56 473.64h1.6v1.6h-1.6zM253.29 474.65h1.6v1.6h-1.6zM255.47 472.18h1.6v1.6h-1.6zM255.91 474.65h1.6v1.6h-1.6zM256.93 471.75h1.6v1.6h-1.6zM259.11 475.67h1.6v1.6h-1.6zM260.56 470.29h1.6v1.6h-1.6zM269.29 465.49h1.6v1.6h-1.6zM271.04 462.29h1.6v1.6h-1.6zM280.93 459.67h1.6v1.6h-1.6zM282.38 457.93h1.6v1.6h-1.6zM286.75 454.29h1.6v1.6h-1.6zM289.02 452.29h1.6v1.6h-1.6zM294.11 448.65h1.6v1.6h-1.6zM297.02 448.22h1.6v1.6h-1.6zM299.2 445.31h1.6v1.6h-1.6zM300.36 444.73h1.6v1.6h-1.6zM301.82 444.29h1.6v1.6h-1.6zM303.56 440.95h1.6v1.6h-1.6zM305.02 442.11h1.6v1.6h-1.6zM307.64 440.36h1.6v1.6h-1.6zM308.65 441.82h1.6v1.6h-1.6zM309.67 444.29h1.6v1.6h-1.6zM311.56 438.91h1.6v1.6h-1.6zM313.02 437.75h1.6v1.6h-1.6zM315.93 435.13h1.6v1.6h-1.6zM316.95 430.76h1.6v1.6h-1.6zM318.11 435.56h1.6v1.6h-1.6zM320.29 433.09h1.6v1.6h-1.6zM321.31 432.22h1.6v1.6h-1.6zM322.47 431.64h1.6v1.6h-1.6zM323.64 432.65h1.6v1.6h-1.6zM324.65 430.76h1.6v1.6h-1.6zM325.67 430.18h1.6v1.6h-1.6zM326.84 431.2h1.6v1.6h-1.6zM327.56 429.31h1.6v1.6h-1.6zM329.02 429.02h1.6v1.6h-1.6zM332.65 426.11h1.6v1.6h-1.6zM334.84 427.27h1.6v1.6h-1.6zM336.29 423.49h1.6v1.6h-1.6zM337.75 422.47h1.6v1.6h-1.6zM341.38 420.29h1.6v1.6h-1.6zM345.75 419.13h1.6v1.6h-1.6zM346.47 421.02h1.6v1.6h-1.6zM355.93 413.02h1.6v1.6h-1.6zM357.09 411.56h1.6v1.6h-1.6z" fill="#24243a"/>
</g>
<rect x="209.9" y="408.5" width="152.9" height="93.3" fill="none" stroke="#c0c0c0" stroke-width="1.15"/>
<path d="M213.5 501.8v1.8M240 501.8v1.8M266.3 501.8v1.8M292.6 501.8v1.8M319 501.8v1.8M345.3 501.8v1.8M209.9 410.7h-1.8M209.9 428h-1.8M209.9 445.2h-1.8M209.9 462h-1.8M209.9 479h-1.8M209.9 496h-1.8" stroke="#888" stroke-width="0.8" fill="none"/>
<text x="213.5" y="509.2" class="tl" text-anchor="middle">20</text>
<text x="240" y="509.2" class="tl" text-anchor="middle">30</text>
<text x="266.3" y="509.2" class="tl" text-anchor="middle">40</text>
<text x="292.6" y="509.2" class="tl" text-anchor="middle">50</text>
<text x="319" y="509.2" class="tl" text-anchor="middle">60</text>
<text x="345.3" y="509.2" class="tl" text-anchor="middle">70</text>
<text class="tl" text-anchor="middle" transform="translate(204.5 410.7) rotate(-90)">70</text>
<text class="tl" text-anchor="middle" transform="translate(204.5 428) rotate(-90)">60</text>
<text class="tl" text-anchor="middle" transform="translate(204.5 445.2) rotate(-90)">50</text>
<text class="tl" text-anchor="middle" transform="translate(204.5 462) rotate(-90)">40</text>
<text class="tl" text-anchor="middle" transform="translate(204.5 479) rotate(-90)">30</text>
<text class="tl" text-anchor="middle" transform="translate(204.5 496) rotate(-90)">20</text>
<text x="191" y="410" class="lab" textLength="8.8" lengthAdjust="spacingAndGlyphs">(k)</text>
<text class="eq" transform="translate(219 420.1) scale(0.9424 1)">R<tspan dy="-1.9" class="sup">2</tspan><tspan dy="1.3" dx="1.4" class="op">=</tspan><tspan dx="1.3" dy="0.6">0.997</tspan></text>
<text class="eq" transform="translate(219 427.1) scale(0.9523 1)">y<tspan dy="-1.9" class="sup">2</tspan><tspan dy="1.3" dx="1.4" class="op">=</tspan><tspan dx="1.3" dy="0.6">0.96x</tspan><tspan dx="1.3" dy="-0.6" class="op">–</tspan><tspan dx="1.3" dy="0.6">2.03</tspan></text>
<text x="246.9" y="519.6" class="ax" textLength="69.7" lengthAdjust="spacingAndGlyphs">SmartGrain area <tspan class="pp" dy="-1.0">(</tspan><tspan dy="1.0">mm2</tspan><tspan class="pp" dy="-1.0">)</tspan><tspan dy="1.0"></tspan></text>
<text class="ax yl" transform="translate(198 484.5) rotate(-90)" textLength="65.6" lengthAdjust="spacingAndGlyphs">Algorithm area <tspan class="pp" dy="-1.0">(</tspan><tspan dy="1.0">mm2</tspan><tspan class="pp" dy="-1.0">)</tspan><tspan dy="1.0"></tspan></text>
<text x="429" y="440" class="lg" font-weight="bold" textLength="23.4" lengthAdjust="spacingAndGlyphs">Legend</text>
<circle cx="422" cy="450" r="1.35" fill="#111"/>
<text x="429" y="454" class="lg" textLength="17.4" lengthAdjust="spacingAndGlyphs">Value</text>
<line x1="404" y1="461.6" x2="424" y2="461.6" stroke="#4472c4" stroke-width="1.1"/>
<text x="429" y="463" class="lg" textLength="46" lengthAdjust="spacingAndGlyphs">Regression line</text>
<line x1="404" y1="473" x2="424" y2="473" stroke="#3cc878" stroke-width="1.1"/>
<text x="429" y="472.4" class="lg" textLength="72" lengthAdjust="spacingAndGlyphs">95% confidence interval</text>
<line x1="404" y1="485" x2="424" y2="485" stroke="#e83c3c" stroke-width="1.1"/>
<text x="429" y="484.4" class="lg" textLength="71" lengthAdjust="spacingAndGlyphs">95% prediction interval</text>
</svg>
</body></html>
